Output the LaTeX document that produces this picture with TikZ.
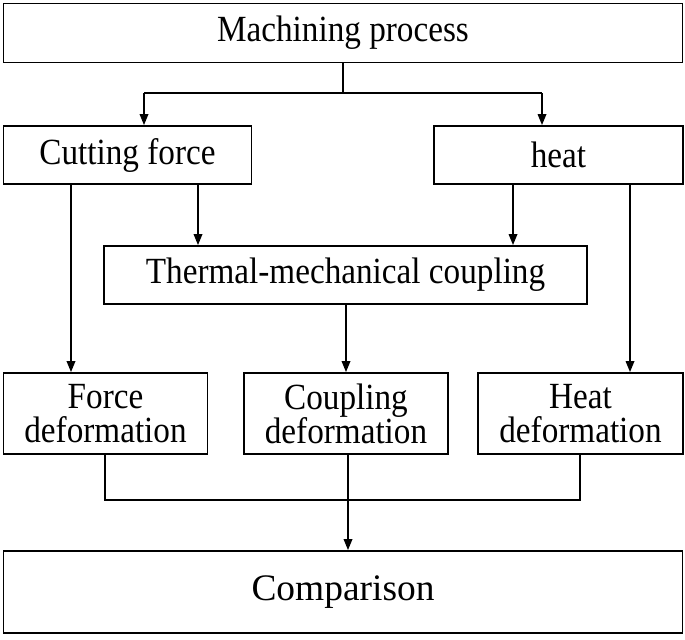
\documentclass[tikz,border=0pt]{standalone}
\usepackage{fontspec}
\setmainfont[FakeStretch=0.9]{Liberation Serif}
\newfontfamily\widefont{Liberation Serif}
\usetikzlibrary{arrows.meta}

\begin{document}
\begin{tikzpicture}[x=0.02cm, y=-0.02cm, >={Triangle[length=2.2mm,width=1.7mm]},
    line width=1pt, font=\fontsize{21pt}{19.5pt}\selectfont,
    box/.style={draw, line width=1pt, inner sep=0pt, align=center}]

    \useasboundingbox (0,0) rectangle (685,639);

    % Riquadri
    \node[box, minimum width=679*0.02cm, minimum height=59*0.02cm] (mach) at (343,33) {Machining process};
    \node[box, minimum width=248*0.02cm, minimum height=58*0.02cm] (cut) at (127.5,155) {Cutting force};
    \node[box, minimum width=249*0.02cm, minimum height=58*0.02cm] (heat) at (558.5,155) {heat};
    \node[box, minimum width=483*0.02cm, minimum height=58*0.02cm] (therm) at (345.5,275) {Thermal-mechanical coupling};
    \node[box, minimum width=204*0.02cm, minimum height=81*0.02cm] (fdef) at (105.5,413.5) {Force\\deformation};
    \node[box, minimum width=204*0.02cm, minimum height=81*0.02cm] (cdef) at (346,413.5) {Coupling\\deformation};
    \node[box, minimum width=205*0.02cm, minimum height=81*0.02cm] (hdef) at (580.5,413.5) {Heat\\deformation};
    \node[box, minimum width=679*0.02cm, minimum height=82*0.02cm,
          font=\widefont\fontsize{21.3pt}{23pt}\selectfont] (comp) at (343,592) {Comparison};

    % Punti di diramazione
    \coordinate (split) at (343,93);
    \coordinate (sL) at (144,93);
    \coordinate (sR) at (542,93);
    \coordinate (merge) at (348,500);
    \coordinate (mL) at (105,500);
    \coordinate (mR) at (580,500);

    % Collegamenti
    \draw (mach.south -| split) -- (split);
    \draw (sL) -- (sR);
    \draw[->] (sL) -- (sL |- cut.north);
    \draw[->] (sR) -- (sR |- heat.north);

    \draw[->] (cut.south -| 71,0) -- (fdef.north -| 71,0);
    \draw[->] (cut.south -| 198,0) -- (therm.north -| 198,0);
    \draw[->] (heat.south -| 513,0) -- (therm.north -| 513,0);
    \draw[->] (heat.south -| 630,0) -- (hdef.north -| 630,0);
    \draw[->] (therm.south -| 346,0) -- (cdef.north -| 346,0);

    \draw (fdef.south -| mL) -- (mL) -- (mR) -- (hdef.south -| mR);
    \draw[->] (cdef.south -| merge) -- (comp.north -| merge);

\end{tikzpicture}
\end{document}
